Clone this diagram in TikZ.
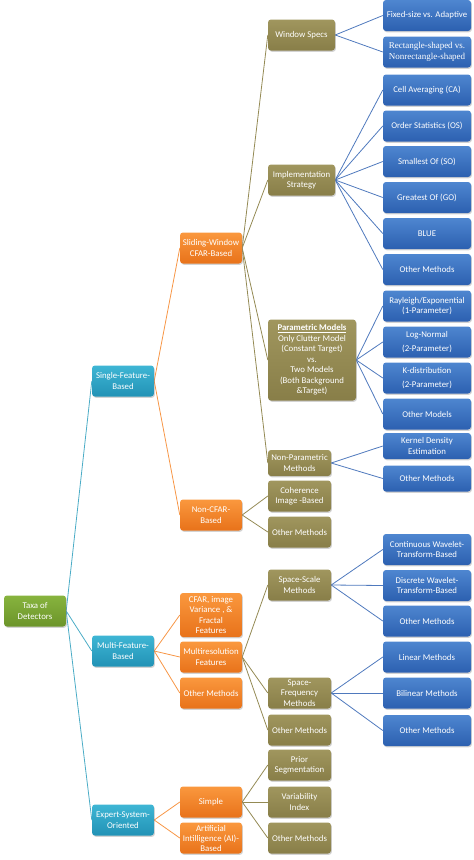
\documentclass[tikz,border=0pt]{standalone}
\usepackage{fontspec}
\setmainfont{Carlito}
\newfontfamily\serifbox{Liberation Serif}
\usetikzlibrary{shadows,backgrounds}
\definecolor{grnT}{RGB}{135,180,62}
\definecolor{grnB}{RGB}{108,148,42}
\definecolor{cynT}{RGB}{62,182,212}
\definecolor{cynB}{RGB}{34,146,182}
\definecolor{orgT}{RGB}{250,152,62}
\definecolor{orgB}{RGB}{232,114,26}
\definecolor{olvT}{RGB}{160,150,94}
\definecolor{olvB}{RGB}{136,126,72}
\definecolor{bluT}{RGB}{78,134,208}
\definecolor{bluB}{RGB}{44,96,176}
\definecolor{cynL}{RGB}{75,172,198}
\definecolor{orgL}{RGB}{247,150,70}
\definecolor{olvL}{RGB}{148,138,84}
\definecolor{bluL}{RGB}{79,121,189}
\tikzset{
  box/.style={rounded corners=3pt, text=white, align=center, inner sep=0.5pt,
    font=\fontsize{8.8}{10.5}\selectfont, minimum height=31pt,
    drop shadow={shadow xshift=0.9pt,shadow yshift=-1.3pt,opacity=0.35}},
  gbox/.style={box, top color=grnT, bottom color=grnB, minimum width=62pt},
  cbox/.style={box, top color=cynT, bottom color=cynB, minimum width=62pt},
  obox/.style={box, top color=orgT, bottom color=orgB, minimum width=62pt},
  tbox/.style={box, top color=olvT, bottom color=olvB, minimum width=63pt},
  bbox/.style={box, top color=bluT, bottom color=bluB, minimum width=88pt},
  cedge/.style={draw=cynL, line width=0.8pt},
  oedge/.style={draw=orgL, line width=0.8pt},
  tedge/.style={draw=olvL, line width=0.8pt},
  bedge/.style={draw=bluL, line width=0.8pt},
}
\begin{document}
\begin{tikzpicture}[x=1pt,y=-1pt]
\useasboundingbox (0,0) rectangle (474,860);
% root
\node[gbox] (root) at (35,611) {Taxa of\\Detectors};
% cyan
\node[cbox] (sf) at (123,381) {Single-Feature-\\Based};
\node[cbox] (mf) at (123,651) {Multi-Feature-\\Based};
\node[cbox] (es) at (123,820) {Expert-System-\\Oriented};
% orange
\node[obox] (sw) at (211,248) {Sliding-Window\\CFAR-Based};
\node[obox] (nc) at (211,515) {Non-CFAR-\\Based};
\node[obox, minimum height=44pt] (cf) at (211,615) {CFAR, image\\Variance , \&\\Fractal\\Features};
\node[obox] (mr) at (211,657) {Multiresolution\\Features};
\node[obox] (om1) at (211,693) {Other Methods};
\node[obox] (sim) at (211,802) {Simple};
\node[obox, font=\fontsize{8.8}{10}\selectfont] (ai) at (211,838) {Artificial\\Intilligence (AI)-\\Based};
% olive
\node[tbox, minimum width=67pt] (ws) at (301.5,35) {Window Specs};
\node[tbox, minimum width=67pt] (is) at (301.5,180) {Implementation\\Strategy};
\node[tbox, minimum width=88pt, minimum height=81pt] (pm) at (312,360) {\underline{\textbf{Parametric Models}}\\Only Clutter Model\\(Constant Target)\\vs.\\Two Models\\(Both Background\\\&Target)};
\node[tbox, minimum height=26pt] (np) at (299.5,463) {Non-Parametric\\Methods};
\node[tbox] (coh) at (299.5,496) {Coherence\\Image -Based};
\node[tbox] (om2) at (299.5,532) {Other Methods};
\node[tbox] (ss) at (299.5,585) {Space-Scale\\Methods};
\node[tbox] (sfq) at (299.5,693) {Space-\\Frequency\\Methods};
\node[tbox] (om3) at (299.5,730) {Other Methods};
\node[tbox] (ps) at (299.5,765) {Prior\\Segmentation};
\node[tbox] (vi) at (299.5,802) {Variability\\Index};
\node[tbox] (om4) at (299.5,838) {Other Methods};
% blue
\node[bbox] (b1) at (427,15.5) {Fixed-size vs. Adaptive};
\node[bbox, font=\serifbox\fontsize{9}{10.5}\selectfont] (b2) at (427,52) {Rectangle-shaped vs.\\Nonrectangle-shaped};
\node[bbox] (b3) at (427,90) {Cell Averaging (CA)};
\node[bbox] (b4) at (427,126) {Order Statistics (OS)};
\node[bbox] (b5) at (427,161.5) {Smallest Of (SO)};
\node[bbox] (b6) at (427,197.5) {Greatest Of (GO)};
\node[bbox] (b7) at (427,233.5) {BLUE};
\node[bbox] (b8) at (427,269.5) {Other Methods};
\node[bbox] (b9) at (427,306) {Rayleigh/Exponential\\(1-Parameter)};
\node[bbox] (b10) at (427,342) {Log-Normal\\[3.5pt](2-Parameter)};
\node[bbox] (b11) at (427,378) {K-distribution\\[3.5pt](2-Parameter)};
\node[bbox] (b12) at (427,414) {Other Models};
\node[bbox, minimum height=26pt] (b13) at (427,446) {Kernel Density\\Estimation};
\node[bbox, minimum height=26pt] (b14) at (427,478.5) {Other Methods};
\node[bbox] (b15) at (427,549.5) {Continuous Wavelet-\\Transform-Based};
\node[bbox] (b16) at (427,585.5) {Discrete Wavelet-\\Transform-Based};
\node[bbox] (b17) at (427,621) {Other Methods};
\node[bbox] (b18) at (427,657) {Linear Methods};
\node[bbox] (b19) at (427,693) {Bilinear Methods};
\node[bbox] (b20) at (427,730.5) {Other Methods};
% connectors
\begin{scope}[on background layer]
\foreach \c in {sf,mf,es} \draw[cedge] (root.east) -- (\c.west);
\foreach \c in {sw,nc} \draw[oedge] (sf.east) -- (\c.west);
\foreach \c in {cf,mr,om1} \draw[oedge] (mf.east) -- (\c.west);
\foreach \c in {sim,ai} \draw[oedge] (es.east) -- (\c.west);
\foreach \c in {ws,is,pm,np} \draw[tedge] (sw.east) -- (\c.west);
\foreach \c in {coh,om2} \draw[tedge] (nc.east) -- (\c.west);
\foreach \c in {ss,sfq,om3} \draw[tedge] (mr.east) -- (\c.west);
\foreach \c in {ps,vi,om4} \draw[tedge] (sim.east) -- (\c.west);
\foreach \c in {b1,b2} \draw[bedge] (ws.east) -- (\c.west);
\foreach \c in {b3,b4,b5,b6,b7,b8} \draw[bedge] (is.east) -- (\c.west);
\foreach \c in {b9,b10,b11,b12} \draw[bedge] (pm.east) -- (\c.west);
\foreach \c in {b13,b14} \draw[bedge] (np.east) -- (\c.west);
\foreach \c in {b15,b16,b17} \draw[bedge] (ss.east) -- (\c.west);
\foreach \c in {b18,b19,b20} \draw[bedge] (sfq.east) -- (\c.west);
\end{scope}
\end{tikzpicture}
\end{document}
